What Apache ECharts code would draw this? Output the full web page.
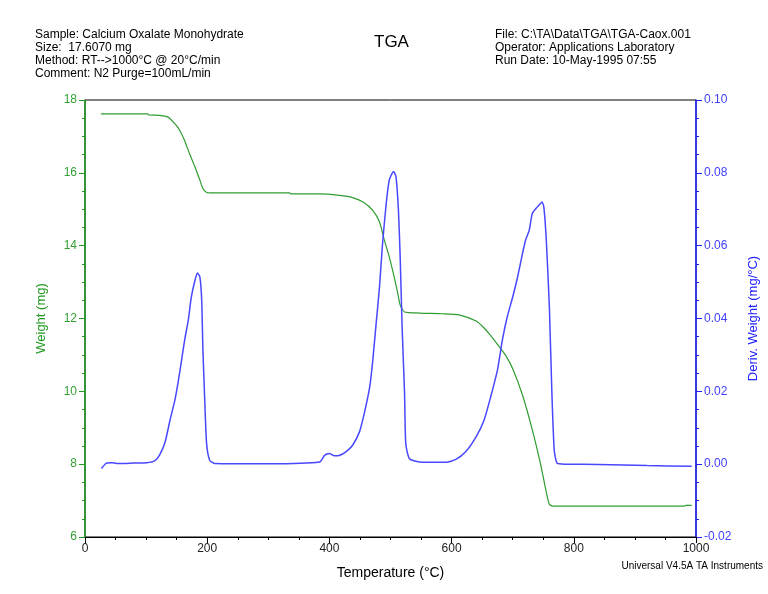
<!DOCTYPE html>
<html lang="en">
<head>
    <meta charset="UTF-8">
    <title>TGA</title>
    <style>
        html, body { margin: 0; padding: 0; background: #fff; }
    </style>
</head>
<body>

<div id="main" style="width: 768px; height: 594px;"></div>

<script src="https://cdn.jsdelivr.net/npm/echarts@6/dist/echarts.min.js"></script>
<script>
    // weight curve (mg) vs temperature
    var weightTemp = [26, 60, 103, 104, 122, 136, 147, 155, 163, 171, 180, 188, 193, 199, 205, 260, 335, 337, 384, 416, 438, 455, 471, 482, 490, 498, 506, 512, 516, 523, 547, 585, 612, 640, 652, 664, 676, 688, 700, 716, 732, 745, 751, 756, 760, 765, 820, 900, 981, 983, 993];
    var weight = [17.62, 17.62, 17.62, 17.59, 17.58, 17.53, 17.35, 17.17, 16.89, 16.53, 16.16, 15.80, 15.57, 15.46, 15.45, 15.45, 15.45, 15.42, 15.42, 15.38, 15.32, 15.20, 14.97, 14.65, 14.15, 13.69, 13.14, 12.68, 12.36, 12.18, 12.15, 12.13, 12.10, 11.93, 11.76, 11.53, 11.27, 11.00, 10.62, 9.90, 8.95, 8.05, 7.56, 7.15, 6.90, 6.85, 6.85, 6.85, 6.85, 6.87, 6.87];

    // derivative weight curve (mg/°C) vs temperature
    var derivTemp = [27, 35, 44, 52, 79, 101, 114, 122, 131, 139, 147, 152, 158, 163, 169, 174, 180, 184, 188, 191, 193, 196, 199, 204, 212, 300, 384, 392, 400, 408, 416, 427, 438, 449, 457, 466, 471, 476, 482, 487, 493, 498, 505, 509, 513, 516, 519, 523, 525, 531, 547, 591, 607, 623, 640, 653, 664, 675, 683, 691, 700, 708, 716, 721, 727, 732, 738, 743, 748, 751, 755, 760, 764, 768, 773, 787, 841, 920, 993];
    var deriv = [-0.0012, 0.0003, 0.0004, 0.0002, 0.0003, 0.0004, 0.0009, 0.0025, 0.0060, 0.0120, 0.0175, 0.0221, 0.0285, 0.0340, 0.0395, 0.0459, 0.0505, 0.0525, 0.0514, 0.0450, 0.0313, 0.0175, 0.0057, 0.0011, 0.0002, 0.0001, 0.0006, 0.0024, 0.0029, 0.0023, 0.0024, 0.0034, 0.0052, 0.0088, 0.0139, 0.0212, 0.0285, 0.0377, 0.0487, 0.0606, 0.0716, 0.0780, 0.0804, 0.0789, 0.0697, 0.0560, 0.0377, 0.0194, 0.0057, 0.0015, 0.0006, 0.0005, 0.0013, 0.0034, 0.0075, 0.0120, 0.0185, 0.0258, 0.0340, 0.0404, 0.0459, 0.0514, 0.0578, 0.0615, 0.0642, 0.0688, 0.0702, 0.0711, 0.0720, 0.0706, 0.0615, 0.0432, 0.0203, 0.0038, 0.0002, 0.0000, -0.0001, -0.0004, -0.0006];

    var xTicks = [0, 200, 400, 600, 800, 1000];

    function pairs(xs, ys) {
        var out = [];
        for (var i = 0; i < xs.length; i++) out.push([xs[i], ys[i]]);
        return out;
    }

    var green = '#1f9a1f';
    var blue = '#2020ff';
    var font = 'Liberation Sans, Arial, sans-serif';

    var myChart = echarts.init(document.getElementById('main'));

    var headerStyle = { fontSize: 12, fontFamily: font, fill: '#000', lineHeight: 13 };

    var option = {
        backgroundColor: '#fff',
        animation: false,
        graphic: [
            {
                type: 'text', left: 35, top: 28,
                style: Object.assign({
                    text: 'Sample: Calcium Oxalate Monohydrate\nSize:  17.6070 mg\nMethod: RT-->1000°C @ 20°C/min\nComment: N2 Purge=100mL/min'
                }, headerStyle)
            },
            {
                type: 'text', left: 495, top: 28,
                style: Object.assign({
                    text: 'File: C:\\TA\\Data\\TGA\\TGA-Caox.001\nOperator: Applications Laboratory\nRun Date: 10-May-1995 07:55'
                }, headerStyle)
            },
            {
                type: 'text', left: 374, top: 34,
                style: { text: 'TGA', fontSize: 17, fontFamily: font, fill: '#000' }
            },
            {
                type: 'text', right: 5, top: 561,
                style: { text: 'Universal V4.5A TA Instruments', fontSize: 10, fontFamily: font, fill: '#000' }
            }
        ],
        grid: {
            left: 85, right: 71, top: 100, bottom: 57,
            show: true, borderColor: '#000', borderWidth: 1
        },
        xAxis: {
            type: 'value',
            min: 0, max: 1000, interval: 200,
            name: 'Temperature (°C)',
            nameLocation: 'middle',
            nameGap: 29,
            nameTextStyle: { fontSize: 14, fontFamily: font, color: '#000' },
            axisLine: { onZero: false, lineStyle: { color: '#000', width: 1 } },
            axisTick: { length: 6, lineStyle: { color: '#000' } },
            minorTick: { show: true, splitNumber: 4, length: 3, lineStyle: { color: '#000' } },
            axisLabel: {
                fontSize: 12, fontFamily: font, color: '#222', margin: 6,
                formatter: function (v) { return xTicks.indexOf(v) >= 0 ? String(v) : ''; }
            },
            splitLine: { show: false }
        },
        yAxis: [
            {
                type: 'value',
                min: 6, max: 18, interval: 2,
                position: 'left',
                name: 'Weight (mg)',
                nameLocation: 'middle',
                nameGap: 37,
                nameTextStyle: { fontSize: 13, fontFamily: font, color: green },
                axisLine: { show: true, onZero: false, lineStyle: { color: green, width: 1.5 } },
                axisTick: { show: true, length: 6, lineStyle: { color: green } },
                minorTick: { show: true, splitNumber: 4, length: 3, lineStyle: { color: green } },
                axisLabel: { fontSize: 12, fontFamily: font, color: '#33a033', margin: 8 },
                splitLine: { show: false }
            },
            {
                type: 'value',
                min: -0.02, max: 0.10, interval: 0.02,
                position: 'right',
                name: 'Deriv. Weight (mg/°C)',
                nameLocation: 'middle',
                nameGap: 51,
                nameRotate: 90,
                nameTextStyle: { fontSize: 13, fontFamily: font, color: blue },
                axisLine: { show: true, onZero: false, lineStyle: { color: blue, width: 1.5 } },
                axisTick: { show: true, length: 6, lineStyle: { color: blue } },
                minorTick: { show: true, splitNumber: 4, length: 3, lineStyle: { color: blue } },
                axisLabel: {
                    fontSize: 12, fontFamily: font, color: '#4040ff', margin: 8,
                    formatter: function (v) { return v.toFixed(2); }
                },
                splitLine: { show: false }
            }
        ],
        series: [
            {
                name: 'Weight',
                type: 'line',
                yAxisIndex: 0,
                data: pairs(weightTemp, weight),
                showSymbol: false,
                smooth: 0.2,
                lineStyle: { color: '#2f9d2f', width: 1.2 }
            },
            {
                name: 'Deriv. Weight',
                type: 'line',
                yAxisIndex: 1,
                data: pairs(derivTemp, deriv),
                showSymbol: false,
                smooth: 0.2,
                lineStyle: { color: '#4848ff', width: 1.5 }
            }
        ]
    };
    myChart.setOption(option);
</script>
</body>
</html>
